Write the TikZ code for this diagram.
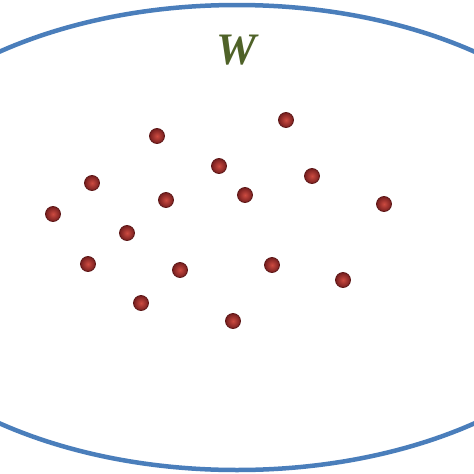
\documentclass[tikz,border=0pt]{standalone}
\usepackage{fontspec}
\setmainfont{Liberation Serif}
\definecolor{ellblue}{RGB}{74,126,187}
\definecolor{wgreen}{RGB}{79,98,40}
\definecolor{dotdark}{RGB}{118,30,30}
\definecolor{dotin}{RGB}{205,75,65}
\begin{document}
\begin{tikzpicture}[x=1pt,y=-1pt,
  pt/.style={circle,minimum size=15pt,inner sep=0pt,draw=dotdark!80!black,line width=0.8pt,
    inner color=dotin,outer color=dotdark}]
\useasboundingbox (0,0) rectangle (474,474);
\fill[white] (0,0) rectangle (474,474);
\draw[ellblue,line width=4.5pt] (237,237.5) ellipse [x radius=395, y radius=232.5];
\node[text=wgreen,font=\fontsize{45}{45}\selectfont\bfseries\itshape] (W) at (237,50) {W};
\node[pt] (d1) at (157,136) {};
\node[pt] (d2) at (286,120) {};
\node[pt] (d3) at (219,166) {};
\node[pt] (d4) at (312,176) {};
\node[pt] (d5) at (92,183) {};
\node[pt] (d6) at (166,200) {};
\node[pt] (d7) at (245,195) {};
\node[pt] (d8) at (384,204) {};
\node[pt] (d9) at (53,214) {};
\node[pt] (d10) at (127,233) {};
\node[pt] (d11) at (88,264) {};
\node[pt] (d12) at (180,270) {};
\node[pt] (d13) at (272,265) {};
\node[pt] (d14) at (343,280) {};
\node[pt] (d15) at (141,303) {};
\node[pt] (d16) at (233,321) {};
\end{tikzpicture}
\end{document}
